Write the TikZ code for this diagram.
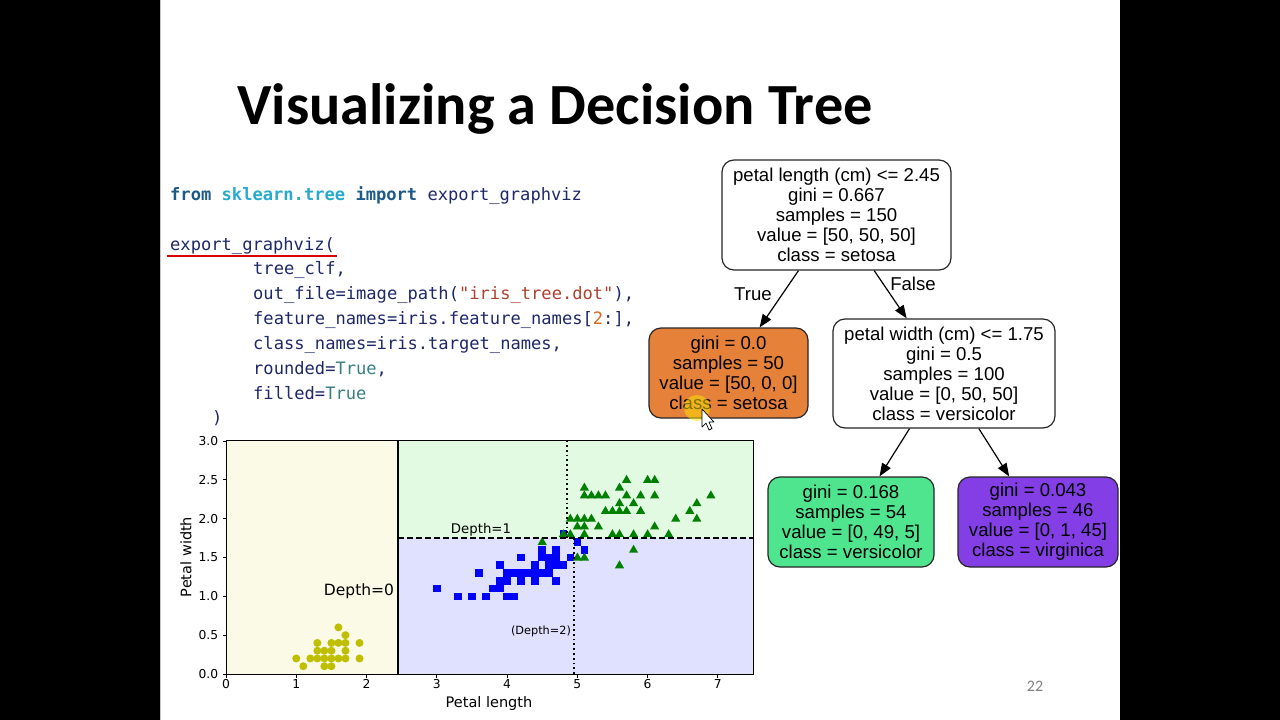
\documentclass[tikz,border=0pt]{standalone}
\usepackage{fontspec}
\setmainfont{Carlito}
\newfontfamily\codefont{DejaVu Sans Mono}
\newfontfamily\treefont{Liberation Sans}
\newfontfamily\plotfont{DejaVu Sans}
\usepackage{tikz}
\usepackage{xcolor}
\usetikzlibrary{positioning, arrows.meta}

\definecolor{kwcol}{RGB}{28,90,138}
\definecolor{modcol}{RGB}{40,170,205}
\definecolor{codetxt}{RGB}{30,40,105}
\definecolor{strcol}{RGB}{176,64,48}
\definecolor{numcol}{RGB}{215,105,30}
\definecolor{truecol}{RGB}{55,128,128}
\definecolor{orangeleaf}{RGB}{229,129,57}
\definecolor{greenleaf}{RGB}{79,229,142}
\definecolor{purpleleaf}{RGB}{131,62,230}
\definecolor{setosacol}{RGB}{191,191,0}
\definecolor{virgcol}{RGB}{0,128,0}
\definecolor{regyellow}{RGB}{250,250,231}
\definecolor{regblue}{RGB}{224,224,255}
\definecolor{reggreen}{RGB}{226,250,226}

\begin{document}
\begin{tikzpicture}[x=1pt, y=-1pt,
    treebox/.style={draw=black!85, line width=1.2pt, rounded corners=12pt, align=center,
        inner sep=0pt, font=\treefont\fontsize{18.6}{20}\selectfont},
    treearrow/.style={-{Triangle[length=13pt,width=10pt]}, line width=1.2pt},
    code/.style={anchor=base west, inner sep=0pt, text=codetxt,
        font=\codefont\fontsize{17.1}{20}\selectfont},
    depthlbl/.style={inner sep=0pt, font=\plotfont\fontsize{#1}{#1}\selectfont}]
    \useasboundingbox (0,0) rectangle (1280,720);
    % slide
    \fill[black] (0,0) rectangle (1280,720);
    \fill[white] (160,0) rectangle (1120,720);
    \draw[gray!45] (160.5,0) -- (160.5,720);

    \node[inner sep=0pt, font=\bfseries\fontsize{58.3}{60}\selectfont] (title) at (555,109) {Visualizing a Decision Tree};

    % code
    \node[code] (c1) at (170,200) {{\bfseries\color{kwcol}from} {\bfseries\color{modcol}sklearn.tree} {\bfseries\color{kwcol}import} export\_graphviz};
    \node[code] (c2) at (170,250) {export\_graphviz(};
    \node[code] (c3) at (253,274) {tree\_clf,};
    \node[code] (c4) at (253,299) {out\_file=image\_path({\color{strcol}"iris\_tree.dot"}),};
    \node[code] (c5) at (253,324) {feature\_names=iris.feature\_names[{\color{numcol}2}:],};
    \node[code] (c6) at (253,349) {class\_names=iris.target\_names,};
    \node[code] (c7) at (253,374) {rounded={\color{truecol}True},};
    \node[code] (c8) at (253,399) {filled={\color{truecol}True}};
    \node[code] (c9) at (212,423) {)};
    \draw[red!85!black, line width=2.2pt] ([shift={(-3pt,-6pt)}]c2.base west) -- ([shift={(2pt,-6pt)}]c2.base east);

    % tree
    \node[treebox, fill=white, minimum width=229pt, minimum height=110pt] (root) at (836.5,215)
        {petal length (cm) <= 2.45\\gini = 0.667\\samples = 150\\value = [50, 50, 50]\\class = setosa};
    \node[treebox, fill=orangeleaf, minimum width=159pt, minimum height=90pt] (setosa) at (728.5,373)
        {gini = 0.0\\samples = 50\\value = [50, 0, 0]\\class = setosa};
    \node[treebox, fill=white, minimum width=222pt, minimum height=109pt] (split) at (944,373.5)
        {petal width (cm) <= 1.75\\gini = 0.5\\samples = 100\\value = [0, 50, 50]\\class = versicolor};
    \node[treebox, fill=greenleaf, minimum width=166pt, minimum height=90pt] (versicolor) at (851,522)
        {gini = 0.168\\samples = 54\\value = [0, 49, 5]\\class = versicolor};
    \node[treebox, fill=purpleleaf, minimum width=160pt, minimum height=90pt] (virginica) at (1038,522)
        {gini = 0.043\\samples = 46\\value = [0, 1, 45]\\class = virginica};
    \draw[treearrow] (root) -- (setosa);
    \draw[treearrow] (root) -- (split);
    \draw[treearrow] (split) -- (versicolor);
    \draw[treearrow] (split) -- (virginica);
    \node[inner sep=0pt, font=\treefont\fontsize{18.6}{20}\selectfont] (truelbl) at (753,294) {True};
    \node[inner sep=0pt, font=\treefont\fontsize{18.6}{20}\selectfont] (falselbl) at (913,284) {False};

    % cursor
    \fill[yellow!90!orange, opacity=0.5] (697,408) circle[radius=13pt];
    \draw[fill=white, line width=0.7pt, line join=round] (702,409) -- (702,427) -- (706,423) -- (709,430)
        -- (712,428.5) -- (709,422) -- (714,422) -- cycle;

    % decision boundary plot
    \begin{scope}[shift={(226,674)}, x=70.27pt, y=77.67pt]
        \fill[regyellow] (0,0) rectangle (2.45,3);
        \fill[reggreen] (2.45,1.75) rectangle (7.5,3);
        \fill[regblue] (2.45,0) rectangle (7.5,1.75);
        % setosa
        \foreach \px/\py in {1.4/0.2,1.3/0.2,1.5/0.2,1.7/0.4,1.4/0.3,1.5/0.1,1.6/0.2,1.4/0.1,1.1/0.1,
            1.2/0.2,1.5/0.4,1.3/0.4,1.7/0.3,1.5/0.3,1.7/0.2,1.0/0.2,1.7/0.5,1.9/0.2,1.6/0.4,
            1.3/0.3,1.6/0.6,1.9/0.4}
            \fill[setosacol] (\px,\py) circle[radius=4pt];
        % versicolor
        \foreach \px/\py in {4.7/1.4,4.5/1.5,4.9/1.5,4.0/1.3,4.6/1.5,4.5/1.3,4.7/1.6,3.3/1.0,4.6/1.3,
            3.9/1.4,3.5/1.0,4.2/1.5,4.0/1.0,3.6/1.3,4.4/1.4,4.1/1.0,3.9/1.1,4.8/1.8,4.7/1.2,
            4.3/1.3,4.8/1.4,5.0/1.7,3.8/1.1,3.7/1.0,3.9/1.2,5.1/1.6,4.5/1.6,4.7/1.5,4.4/1.3,
            4.1/1.3,4.4/1.2,4.6/1.4,4.0/1.2,4.2/1.3,4.2/1.2,3.0/1.1}
            \fill[blue] (\px,\py) ++(-3.8pt,-3.8pt) rectangle ++(7.6pt,7.6pt);
        % virginica
        \foreach \px/\py in {6.0/2.5,5.1/1.9,5.9/2.1,5.6/1.8,5.8/2.2,6.6/2.1,4.5/1.7,6.3/1.8,5.8/1.8,
            6.1/2.5,5.1/2.0,5.3/1.9,5.5/2.1,5.0/2.0,5.1/2.4,5.3/2.3,5.5/1.8,6.7/2.2,6.9/2.3,
            5.0/1.5,5.7/2.3,4.9/2.0,6.7/2.0,4.9/1.8,5.7/2.1,6.0/1.8,4.8/1.8,5.6/2.1,5.8/1.6,
            6.1/1.9,6.4/2.0,5.6/2.2,5.1/1.5,5.6/1.4,6.1/2.3,5.6/2.4,5.4/2.1,5.1/2.3,5.9/2.3,
            5.7/2.5,5.2/2.3,5.0/1.9,5.2/2.0,5.4/2.3,5.1/1.8}
            \fill[virgcol] (\px,\py) ++(0pt,5pt) -- ++(-4.6pt,-8pt) -- ++(9.2pt,0pt) -- cycle;
        % splits
        \draw[line width=2pt] (2.45,0) -- (2.45,3);
        \draw[line width=2pt, dash pattern=on 6pt off 3pt] (2.45,1.75) -- (7.5,1.75);
        \draw[line width=1.8pt, dash pattern=on 1.8pt off 3pt] (4.95,0) -- (4.95,1.75);
        \draw[line width=1.8pt, dash pattern=on 1.8pt off 3pt] (4.85,1.75) -- (4.85,3);
        \draw[line width=1pt] (0,0) rectangle (7.5,3);
        % ticks
        \foreach \i in {0,...,7}
            \draw[line width=0.8pt] (\i,0) -- ++(0pt,-3.5pt) node[below=1.5pt, inner sep=0pt,
                font=\plotfont\fontsize{12.3}{13}\selectfont] (xt\i) {\i};
        \foreach \v/\lab in {0/0.0,0.5/0.5,1/1.0,1.5/1.5,2/2.0,2.5/2.5,3/3.0}
            \draw[line width=0.8pt] (0,\v) -- ++(-3.5pt,0pt) node[left=4pt, inner sep=0pt,
                font=\plotfont\fontsize{12.3}{13}\selectfont] (yt\lab) {\lab};
    \end{scope}
    \node[depthlbl=15.5] (d0) at (359,591) {Depth=0};
    \node[depthlbl=13.3] (d1) at (481,530) {Depth=1};
    \node[depthlbl=11.3] (d2) at (541,631) {(Depth=2)};
    \node[inner sep=0pt, font=\plotfont\fontsize{14.5}{15}\selectfont] (xlabel) at (489,703) {Petal length};
    \node[inner sep=0pt, rotate=90, font=\plotfont\fontsize{14.5}{15}\selectfont] (ylabel) at (186,557) {Petal width};

    \node[inner sep=0pt, text=gray, font=\fontsize{16}{16}\selectfont] (pagenum) at (1035,686) {22};
\end{tikzpicture}
\end{document}
